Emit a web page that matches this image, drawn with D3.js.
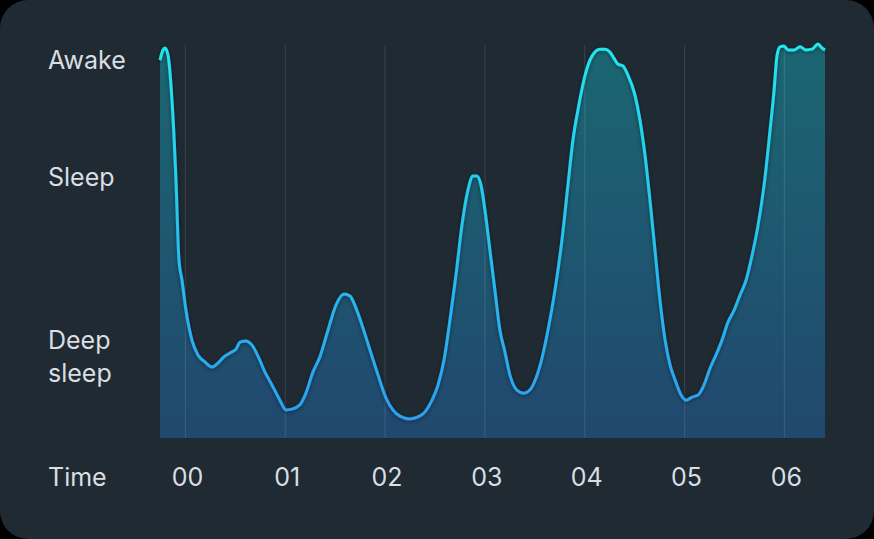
<!DOCTYPE html>
<html><head><meta charset="utf-8">
<script src="https://cdn.jsdelivr.net/npm/d3@7"></script>
<style>html,body{margin:0;padding:0;background:#000;} svg{display:block}</style>
</head><body><svg id="c" width="874" height="539"></svg>
<script>
// Time in minutes after midnight
const minutes = [-15.3,-13.5,-12.3,-10.5,-8.1,-5.7,-3.9,-2.1,0.3,3.9,7.5,11.7,15.9,19.5,23.1,26.8,30.4,32.8,36.4,40.0,43.6,47.8,52.0,56.8,60.4,64.0,68.8,72.4,76.6,80.8,85.7,90.5,95.3,98.9,102.5,106.1,110.9,115.7,120.5,124.7,128.9,134.9,139.8,144.0,148.2,151.8,155.4,159.0,162.6,166.2,169.8,172.8,175.2,177.6,180.0,183.0,186.0,189.0,192.0,195.0,199.2,203.4,207.0,210.7,214.3,217.9,222.1,226.3,229.9,232.9,235.9,239.5,243.1,246.1,249.1,252.1,255.1,257.5,259.9,262.9,265.9,270.2,273.2,276.2,279.2,282.2,285.2,288.3,291.3,294.3,297.9,300.9,304.5,308.1,311.7,315.3,318.9,322.5,326.1,329.8,333.4,337.0,340.6,344.2,347.8,351.4,353.8,355.6,357.4,359.8,362.2,365.8,369.4,373.0,376.6,380.2,382.6,384.4];
// Sleep level (0 = deepest, 100 = awake)
const levels = [96.9,99.5,100,98.2,86.7,66.2,45.6,40.5,32.8,25.1,21.3,19.5,18.2,19.2,20.8,21.8,22.8,24.6,24.9,23.8,21.0,16.9,13.6,9.7,7.2,7.4,8.5,11.5,16.9,20.8,27.7,34.1,36.9,36.4,33.3,29.0,22.6,16.2,10.3,7.2,5.6,4.9,5.4,6.7,9.7,13.6,20.0,30.3,41.8,54.6,63.6,67.2,67.2,64.9,58.5,48.2,37.9,27.7,22.1,16.2,12.3,11.5,12.3,15.4,20.5,27.7,37.9,50.8,64.9,76.4,84.1,91.8,96.9,99.0,99.7,99.7,99.0,97.4,95.9,95.4,93.1,87.9,81.5,72.6,61.0,48.2,35.4,25.1,18.7,14.9,11.0,9.7,10.5,11.0,13.6,17.9,21.3,25.1,29.7,32.8,36.7,40.5,46.9,54.6,64.9,79.0,89.2,98.2,100.3,100.5,99.5,99.5,100.3,99.5,99.7,101,100,99.5];
const hourTicks = [0,60,120,180,240,300,360];
const hourLabels = ["00","01","02","03","04","05","06"];
const stageLabels = [["Awake"],["Sleep"],["Deep","sleep"]];
const stageLevels = [97,67,21];
const axisTitle = "Time";

const W = 874, H = 539;
const svg = d3.select("#c");
const font = "Inter, 'Noto Sans', sans-serif";
const textColor = "#d9dee2";

svg.append("rect").attr("width",W).attr("height",H).attr("rx",28).attr("fill","#1f2a33");

const x = d3.scaleLinear().domain([d3.min(minutes), d3.max(minutes)]).range([160, 825]);
const y = d3.scaleLinear().domain([0,100]).range([438, 48]);

const data = minutes.map((m,i)=>({m, v: levels[i]}));

const defs = svg.append("defs");
const fg = defs.append("linearGradient").attr("id","fillG").attr("gradientUnits","userSpaceOnUse")
  .attr("x1",0).attr("x2",0).attr("y1",y(100)).attr("y2",y(0));
fg.append("stop").attr("offset","0%").attr("stop-color","#1b6672");
fg.append("stop").attr("offset","100%").attr("stop-color","#21486e");
const lg = defs.append("linearGradient").attr("id","lineG").attr("gradientUnits","userSpaceOnUse")
  .attr("x1",0).attr("x2",0).attr("y1",y(100)).attr("y2",y(0));
lg.append("stop").attr("offset","0%").attr("stop-color","#22e6ee");
lg.append("stop").attr("offset","100%").attr("stop-color","#2b9cf0");
const sh = defs.append("filter").attr("id","sh").attr("x","-10%").attr("y","-10%").attr("width","120%").attr("height","120%");
sh.append("feDropShadow").attr("dx",0).attr("dy",1).attr("stdDeviation",2).attr("flood-color","#000").attr("flood-opacity",0.45);

const area = d3.area().x(d=>x(d.m)).y0(y(0)).y1(d=>y(d.v)).curve(d3.curveMonotoneX);
const line = d3.line().x(d=>x(d.m)).y(d=>y(d.v)).curve(d3.curveMonotoneX);

svg.append("path").datum(data).attr("d",area).attr("fill","url(#fillG)");

// gridlines
svg.append("g").selectAll("line").data(hourTicks).join("line")
  .attr("x1",d=>x(d)).attr("x2",d=>x(d)).attr("y1",45).attr("y2",y(0))
  .attr("stroke","rgba(255,255,255,0.1)").attr("stroke-width",1.2);

svg.append("path").datum(data).attr("d",line).attr("fill","none")
  .attr("stroke","url(#lineG)").attr("stroke-width",3).attr("stroke-linejoin","round")
  .attr("filter","url(#sh)");

// x axis
const xAxis = d3.axisBottom(x).tickValues(hourTicks).tickFormat((d,i)=>hourLabels[i]).tickSize(0).tickPadding(0);
const gx = svg.append("g").attr("transform","translate(1.5,486)").call(xAxis);
gx.select(".domain").remove();
gx.selectAll("text").attr("fill",textColor).attr("font-family",font).attr("font-size",25).attr("dy",0);

svg.append("text").attr("x",48).attr("y",486).text(axisTitle)
  .attr("fill",textColor).attr("font-family",font).attr("font-size",25);

// stage labels
const sg = svg.append("g").selectAll("text").data(stageLabels).join("text")
  .attr("x",48).attr("fill",textColor).attr("font-family",font).attr("font-size",25)
  .attr("y",(d,i)=>y(stageLevels[i]) - (d.length-1)*16.5 + 9);
sg.selectAll("tspan").data(d=>d).join("tspan").attr("x",48).attr("dy",(d,i)=>i===0?0:33).text(d=>d);
</script></body></html>
